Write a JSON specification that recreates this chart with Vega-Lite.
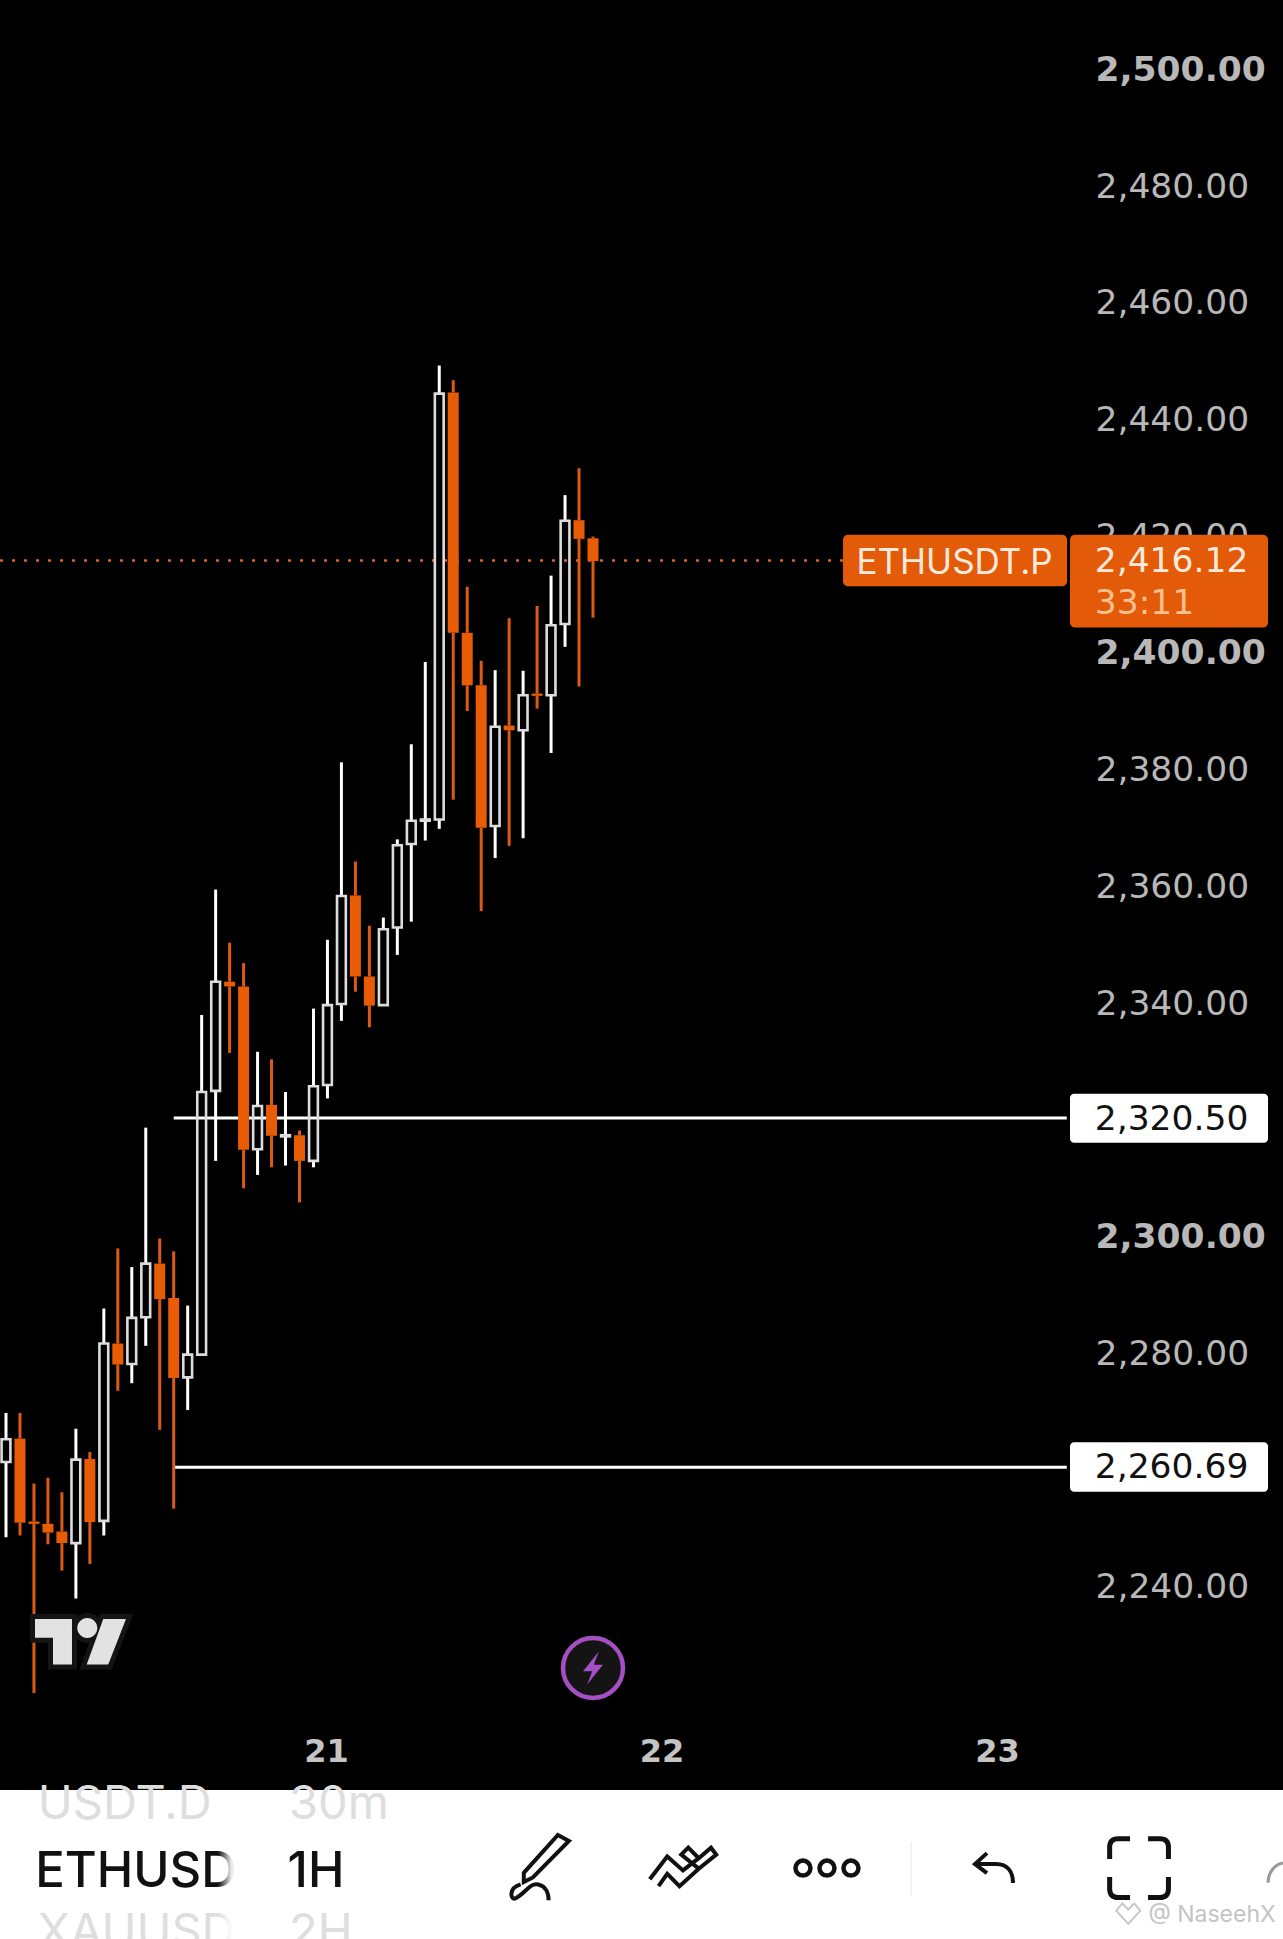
{"$schema":"https://vega.github.io/schema/vega-lite/v6.json","width":1283,"height":1939,"padding":0,"autosize":{"type":"none"},"background":"#000000","view":{"stroke":null},
"config":{"font":"Inter","axis":{"title":null,"grid":false,"domain":false,"ticks":false}},
"datasets":{
"candles":[
{"i":0,"high":2269.5,"low":2248.2,"top":2265.0,"bottom":2261.1,"dir":"up"},
{"i":1,"high":2269.5,"low":2248.5,"top":2265.1,"bottom":2250.7,"dir":"down"},
{"i":2,"high":2257.4,"low":2221.5,"top":2250.9,"bottom":2250.5,"dir":"down"},
{"i":3,"high":2258.4,"low":2247.0,"top":2250.5,"bottom":2249.0,"dir":"down"},
{"i":4,"high":2255.9,"low":2242.5,"top":2249.2,"bottom":2247.2,"dir":"down"},
{"i":5,"high":2266.8,"low":2237.7,"top":2261.5,"bottom":2247.2,"dir":"up"},
{"i":6,"high":2262.8,"low":2243.6,"top":2261.6,"bottom":2250.8,"dir":"down"},
{"i":7,"high":2287.4,"low":2248.5,"top":2281.4,"bottom":2251.0,"dir":"up"},
{"i":8,"high":2297.7,"low":2273.3,"top":2281.4,"bottom":2277.8,"dir":"down"},
{"i":9,"high":2294.5,"low":2274.6,"top":2285.8,"bottom":2277.9,"dir":"up"},
{"i":10,"high":2318.4,"low":2281.0,"top":2295.1,"bottom":2285.9,"dir":"up"},
{"i":11,"high":2299.4,"low":2266.6,"top":2295.1,"bottom":2289.0,"dir":"down"},
{"i":12,"high":2297.2,"low":2253.1,"top":2289.2,"bottom":2275.5,"dir":"down"},
{"i":13,"high":2287.9,"low":2270.0,"top":2279.5,"bottom":2275.6,"dir":"up"},
{"i":14,"high":2337.7,"low":2279.5,"top":2324.5,"bottom":2279.5,"dir":"up"},
{"i":15,"high":2359.2,"low":2312.7,"top":2343.4,"bottom":2324.7,"dir":"up"},
{"i":16,"high":2350.1,"low":2331.2,"top":2343.4,"bottom":2342.6,"dir":"down"},
{"i":17,"high":2346.6,"low":2308.0,"top":2342.6,"bottom":2314.6,"dir":"down"},
{"i":18,"high":2331.4,"low":2310.3,"top":2322.1,"bottom":2314.7,"dir":"up"},
{"i":19,"high":2330.1,"low":2311.6,"top":2322.3,"bottom":2317.0,"dir":"down"},
{"i":20,"high":2324.5,"low":2311.9,"top":2317.1,"bottom":2316.9,"dir":"up"},
{"i":21,"high":2317.9,"low":2305.6,"top":2317.1,"bottom":2312.7,"dir":"down"},
{"i":22,"high":2338.8,"low":2311.6,"top":2325.5,"bottom":2312.7,"dir":"up"},
{"i":23,"high":2350.6,"low":2323.4,"top":2339.4,"bottom":2325.7,"dir":"up"},
{"i":24,"high":2381.0,"low":2336.7,"top":2358.1,"bottom":2339.6,"dir":"up"},
{"i":25,"high":2364.0,"low":2341.7,"top":2358.2,"bottom":2344.3,"dir":"down"},
{"i":26,"high":2353.0,"low":2335.6,"top":2344.3,"bottom":2339.3,"dir":"down"},
{"i":27,"high":2354.4,"low":2339.4,"top":2352.4,"bottom":2339.4,"dir":"up"},
{"i":28,"high":2367.8,"low":2348.0,"top":2366.8,"bottom":2352.7,"dir":"up"},
{"i":29,"high":2384.1,"low":2353.7,"top":2371.0,"bottom":2367.0,"dir":"up"},
{"i":30,"high":2398.2,"low":2367.6,"top":2371.2,"bottom":2371.0,"dir":"up"},
{"i":31,"high":2449.0,"low":2369.6,"top":2444.2,"bottom":2371.2,"dir":"up"},
{"i":32,"high":2446.5,"low":2374.6,"top":2444.4,"bottom":2403.2,"dir":"down"},
{"i":33,"high":2411.1,"low":2389.8,"top":2403.2,"bottom":2394.2,"dir":"down"},
{"i":34,"high":2398.4,"low":2355.5,"top":2394.2,"bottom":2369.8,"dir":"down"},
{"i":35,"high":2396.8,"low":2364.6,"top":2387.1,"bottom":2370.1,"dir":"up"},
{"i":36,"high":2405.7,"low":2366.7,"top":2387.3,"bottom":2386.5,"dir":"down"},
{"i":37,"high":2396.7,"low":2368.0,"top":2392.5,"bottom":2386.5,"dir":"up"},
{"i":38,"high":2407.8,"low":2390.2,"top":2392.8,"bottom":2392.4,"dir":"down"},
{"i":39,"high":2413.0,"low":2382.6,"top":2404.5,"bottom":2392.5,"dir":"up"},
{"i":40,"high":2426.8,"low":2400.8,"top":2422.4,"bottom":2404.7,"dir":"up"},
{"i":41,"high":2431.4,"low":2394.0,"top":2422.5,"bottom":2419.3,"dir":"down"},
{"i":42,"high":2419.7,"low":2405.8,"top":2419.4,"bottom":2415.5,"dir":"down"}
],
"levels":[{"start":12,"end":75.9,"price":2320.05},{"start":12,"end":75.9,"price":2260.2}],
"current":[{"start":-0.43,"end":59.9,"price":2415.6}],
"boxes":[
{"kind":"current","x0":59.89,"x1":75.92,"p0":2420.0,"p1":2411.2},
{"kind":"current","x0":76.13,"x1":90.3,"p0":2420.0,"p1":2404.1},
{"kind":"level","x0":76.13,"x1":90.3,"p0":2324.2,"p1":2315.8},
{"kind":"level","x0":76.13,"x1":90.3,"p0":2264.5,"p1":2256.0},
{"kind":"panel","x0":-0.43,"x1":91.37,"p0":2204.9,"p1":2179.35}
],
"labels":[
{"group":"symbol","idx":60.85,"price":2415.1,"text":"ETHUSDT.P"},
{"group":"price","idx":77.9,"price":2415.4,"text":"2,416.12"},
{"group":"countdown","idx":77.9,"price":2408.2,"text":"33:11"},
{"group":"level","idx":77.9,"price":2319.7,"text":"2,320.50"},
{"group":"level","idx":77.9,"price":2260.1,"text":"2,260.69"},
{"group":"faded","idx":2.28,"price":2202.3,"text":"USDT.D"},
{"group":"faded","idx":20.25,"price":2202.3,"text":"30m"},
{"group":"main","idx":2.09,"price":2190.9,"text":"ETHUSD"},
{"group":"main","idx":20.15,"price":2190.9,"text":"1H"},
{"group":"faded","idx":2.28,"price":2180.4,"text":"XAUUSD"},
{"group":"faded","idx":20.25,"price":2180.4,"text":"2H"},
{"group":"watermark","idx":81.75,"price":2183.5,"text":"@ NaseehX"}
],
"icons":[
{"name":"logo","idx":5.33,"price":2230.25},
{"name":"bolt","idx":42,"price":2225.8},
{"name":"pencil","idx":38.2,"price":2191.7},
{"name":"wave","idx":48.44,"price":2191.7},
{"name":"dots","idx":58.74,"price":2191.5},
{"name":"undo","idx":70.69,"price":2191.5},
{"name":"frame","idx":81.07,"price":2191.5},
{"name":"arc","idx":90.8,"price":2190.7},
{"name":"mark","idx":80.3,"price":2184}
],
"divider":[{"idx":64.75,"p0":2196,"p1":2186.9}],
"fade":[{"x0":15.17,"x1":16.74,"p0":2204.9,"p1":2179.35}]
},
"layer":[
{"data":{"name":"current"},"mark":{"type":"rule","color":"#d9651f","strokeWidth":2.5,"strokeDash":[3,9]},
"encoding":{
"x":{"field":"start","type":"quantitative","scale":{"domain":[-0.429,91.37],"nice":false,"zero":false,"padding":0},
"axis":{"orient":"bottom","offset":-188,"values":[22.9,46.9,70.9],"labelExpr":"datum.value<30?'21':datum.value<50?'22':'23'","labelPadding":0,"labelBaseline":"middle","labelAlign":"center","labelFont":"DejaVu Sans","labelFontSize":32,"labelFontWeight":"bold","labelColor":"#c4c4c4","labelFlush":false,"labelOverlap":false,"labelBound":false}},
"x2":{"field":"end"},
"y":{"field":"price","type":"quantitative","scale":{"domain":[2179.35,2511.65],"nice":false,"zero":false},
"axis":{"orient":"right","offset":-188,"labelOffset":2.5,"values":[2240,2260,2280,2300,2320,2340,2360,2380,2400,2420,2440,2460,2480,2500],"labelExpr":"datum.value==2260||datum.value==2320?'':format(datum.value,',.2f')","labelPadding":0,"labelBaseline":"middle","labelAlign":"left","labelFont":"DejaVu Sans","labelFontSize":34.5,"labelColor":"#b8b8b8","labelFontWeight":{"condition":{"test":"datum.value==2500||datum.value==2400||datum.value==2300","value":"bold"},"value":"normal"},"labelFlush":false,"labelOverlap":false,"labelBound":false}}}},
{"data":{"name":"levels"},"mark":{"type":"rule","color":"#ffffff","strokeWidth":3},
"encoding":{"x":{"field":"start","type":"quantitative"},"x2":{"field":"end"},"y":{"field":"price","type":"quantitative"}}},
{"data":{"name":"candles"},"mark":{"type":"rule","strokeWidth":3},
"encoding":{"x":{"field":"i","type":"quantitative"},"y":{"field":"high","type":"quantitative"},"y2":{"field":"top"},"color":{"field":"dir","type":"nominal","scale":{"domain":["up","down"],"range":["#ffffff","#dc5a14"]},"legend":null}}},
{"data":{"name":"candles"},"mark":{"type":"rule","strokeWidth":3},
"encoding":{"x":{"field":"i","type":"quantitative"},"y":{"field":"bottom","type":"quantitative"},"y2":{"field":"low"},"color":{"field":"dir","type":"nominal","legend":null}}},
{"data":{"name":"candles"},"transform":[{"filter":"datum.dir=='up'"}],"mark":{"type":"bar","size":8.8,"fill":"transparent","stroke":"#dcdcdc","strokeWidth":2.6},
"encoding":{"x":{"field":"i","type":"quantitative","scale":{"padding":0}},"y":{"field":"top","type":"quantitative"},"y2":{"field":"bottom"}}},
{"data":{"name":"candles"},"transform":[{"filter":"datum.dir=='down'"}],"mark":{"type":"bar","size":11,"fill":"#e85c06"},
"encoding":{"x":{"field":"i","type":"quantitative","scale":{"padding":0}},"y":{"field":"top","type":"quantitative"},"y2":{"field":"bottom"}}},
{"data":{"name":"boxes"},"transform":[{"filter":"datum.kind=='current'"}],"mark":{"type":"rect","fill":"#e35a08","cornerRadius":5},
"encoding":{"x":{"field":"x0","type":"quantitative"},"x2":{"field":"x1"},"y":{"field":"p0","type":"quantitative"},"y2":{"field":"p1"}}},
{"data":{"name":"boxes"},"transform":[{"filter":"datum.kind=='level'"}],"mark":{"type":"rect","fill":"#ffffff","cornerRadius":4},
"encoding":{"x":{"field":"x0","type":"quantitative"},"x2":{"field":"x1"},"y":{"field":"p0","type":"quantitative"},"y2":{"field":"p1"}}},
{"data":{"name":"boxes"},"transform":[{"filter":"datum.kind=='panel'"}],"mark":{"type":"rect","fill":"#ffffff"},
"encoding":{"x":{"field":"x0","type":"quantitative"},"x2":{"field":"x1"},"y":{"field":"p0","type":"quantitative"},"y2":{"field":"p1"}}},
{"data":{"name":"divider"},"mark":{"type":"rule","color":"#eeeeee","strokeWidth":1.5},
"encoding":{"x":{"field":"idx","type":"quantitative"},"y":{"field":"p0","type":"quantitative"},"y2":{"field":"p1"}}},
{"data":{"name":"labels"},"transform":[{"filter":"datum.group=='symbol'"}],"mark":{"type":"text","align":"left","baseline":"middle","font":"Inter","fontSize":35,"color":"#ffeadb"},
"encoding":{"x":{"field":"idx","type":"quantitative"},"y":{"field":"price","type":"quantitative"},"text":{"field":"text"}}},
{"data":{"name":"labels"},"transform":[{"filter":"datum.group=='price'"}],"mark":{"type":"text","align":"left","baseline":"middle","font":"DejaVu Sans","fontSize":34.5,"color":"#ffeadb"},
"encoding":{"x":{"field":"idx","type":"quantitative"},"y":{"field":"price","type":"quantitative"},"text":{"field":"text"}}},
{"data":{"name":"labels"},"transform":[{"filter":"datum.group=='countdown'"}],"mark":{"type":"text","align":"left","baseline":"middle","font":"DejaVu Sans","fontSize":34.5,"color":"#ffc090"},
"encoding":{"x":{"field":"idx","type":"quantitative"},"y":{"field":"price","type":"quantitative"},"text":{"field":"text"}}},
{"data":{"name":"labels"},"transform":[{"filter":"datum.group=='level'"}],"mark":{"type":"text","align":"left","baseline":"middle","font":"DejaVu Sans","fontSize":34.5,"color":"#111111"},
"encoding":{"x":{"field":"idx","type":"quantitative"},"y":{"field":"price","type":"quantitative"},"text":{"field":"text"}}},
{"data":{"name":"labels"},"transform":[{"filter":"datum.group=='faded'"}],"mark":{"type":"text","align":"left","baseline":"middle","font":"Inter","fontSize":47,"color":"#dedede"},
"encoding":{"x":{"field":"idx","type":"quantitative"},"y":{"field":"price","type":"quantitative"},"text":{"field":"text"}}},
{"data":{"name":"labels"},"transform":[{"filter":"datum.group=='main'"}],"mark":{"type":"text","align":"left","baseline":"middle","font":"Inter","fontSize":49,"fontWeight":500,"color":"#111111"},
"encoding":{"x":{"field":"idx","type":"quantitative"},"y":{"field":"price","type":"quantitative"},"text":{"field":"text"}}},
{"data":{"name":"fade"},"mark":{"type":"rect","fill":{"gradient":"linear","x1":0,"y1":0,"x2":1,"y2":0,"stops":[{"offset":0,"color":"rgba(255,255,255,0)"},{"offset":0.6,"color":"rgba(255,255,255,0.9)"},{"offset":1,"color":"#ffffff"}]}},
"encoding":{"x":{"field":"x0","type":"quantitative"},"x2":{"field":"x1"},"y":{"field":"p0","type":"quantitative"},"y2":{"field":"p1"}}},
{"data":{"name":"labels"},"transform":[{"filter":"datum.group=='watermark'"}],"mark":{"type":"text","align":"left","baseline":"middle","font":"Inter","fontSize":23,"color":"#c4c4c4"},
"encoding":{"x":{"field":"idx","type":"quantitative"},"y":{"field":"price","type":"quantitative"},"text":{"field":"text"}}},
{"data":{"name":"icons"},"transform":[{"filter":"datum.name=='logo'"}],"mark":{"type":"point","filled":true,"opacity":1,"size":8281,"fill":"#141414","stroke":"#141414","strokeWidth":10,"shape":"M-1 -.505 H-.187 V.495 H-.604 V-.095 H-1 Z M-.07 -.308 A.22 .22 0 1 0 .37 -.308 A.22 .22 0 1 0 -.07 -.308 Z M.5 -.505 H1 L.61 .495 H.136 Z"},
"encoding":{"x":{"field":"idx","type":"quantitative"},"y":{"field":"price","type":"quantitative"}}},
{"data":{"name":"icons"},"transform":[{"filter":"datum.name=='logo'"}],"mark":{"type":"point","filled":true,"opacity":1,"size":8281,"fill":"#e2e2e2","strokeWidth":0,"shape":"M-1 -.505 H-.187 V.495 H-.604 V-.095 H-1 Z M-.07 -.308 A.22 .22 0 1 0 .37 -.308 A.22 .22 0 1 0 -.07 -.308 Z M.5 -.505 H1 L.61 .495 H.136 Z"},
"encoding":{"x":{"field":"idx","type":"quantitative"},"y":{"field":"price","type":"quantitative"}}},
{"data":{"name":"icons"},"transform":[{"filter":"datum.name=='bolt'"}],"mark":{"type":"point","filled":false,"opacity":1,"shape":"circle","size":3600,"fill":"#141414","stroke":"#a44fc4","strokeWidth":4.5},
"encoding":{"x":{"field":"idx","type":"quantitative"},"y":{"field":"price","type":"quantitative"}}},
{"data":{"name":"icons"},"transform":[{"filter":"datum.name=='bolt'"}],"mark":{"type":"point","filled":true,"opacity":1,"size":1100,"fill":"#a44fc4","strokeWidth":0,"shape":"M.35 -1 L-.6 .2 H-.05 L-.35 1 L.6 -.2 H.05 Z"},
"encoding":{"x":{"field":"idx","type":"quantitative"},"y":{"field":"price","type":"quantitative"}}},
{"data":{"name":"icons"},"transform":[{"filter":"datum.name=='pencil'"}],"mark":{"type":"point","filled":false,"opacity":1,"size":4900,"stroke":"#111111","strokeWidth":4,"shape":"M.514 -.914 L.829 -.743 L-.2 .3 L-.46 .43 L-.46 .17 Z M-.55 .5 C-.9 .6 -.85 .95 -.7 .9 C-.4 .75 -.3 .45 -.05 .5 C.2 .55 .25 .8 .25 .95"},
"encoding":{"x":{"field":"idx","type":"quantitative"},"y":{"field":"price","type":"quantitative"}}},
{"data":{"name":"icons"},"transform":[{"filter":"datum.name=='wave'"}],"mark":{"type":"point","filled":false,"opacity":1,"size":4900,"stroke":"#111111","strokeWidth":4,"shape":"M-.95 .35 L-.45 -.3 L0 .1 L.45 -.25 M-.7 .55 L-.45 .2 L-.1 .55 L.45 .05 L.95 -.35 L.8 -.55 L.45 -.25 L.15 -.55 L-.05 -.35 L.45 .05"},
"encoding":{"x":{"field":"idx","type":"quantitative"},"y":{"field":"price","type":"quantitative"}}},
{"data":{"name":"icons"},"transform":[{"filter":"datum.name=='dots'"}],"mark":{"type":"point","filled":false,"opacity":1,"size":3600,"stroke":"#111111","strokeWidth":4.5,"shape":"M-1.05 0 A.25 .25 0 1 0 -.55 0 A.25 .25 0 1 0 -1.05 0 Z M-.25 0 A.25 .25 0 1 0 .25 0 A.25 .25 0 1 0 -.25 0 Z M.55 0 A.25 .25 0 1 0 1.05 0 A.25 .25 0 1 0 .55 0 Z"},
"encoding":{"x":{"field":"idx","type":"quantitative"},"y":{"field":"price","type":"quantitative"}}},
{"data":{"name":"icons"},"transform":[{"filter":"datum.name=='undo'"}],"mark":{"type":"point","filled":false,"opacity":1,"size":1600,"stroke":"#111111","strokeWidth":4,"shape":"M-.35 -.75 L-.95 -.2 L-.35 .25 M-.95 -.2 H.1 C.7 -.2 .95 .2 .95 .75"},
"encoding":{"x":{"field":"idx","type":"quantitative"},"y":{"field":"price","type":"quantitative"}}},
{"data":{"name":"icons"},"transform":[{"filter":"datum.name=='frame'"}],"mark":{"type":"point","filled":false,"opacity":1,"size":3600,"stroke":"#111111","strokeWidth":5,"shape":"M-.98 -.3 V-.7 Q-.98 -.98 -.7 -.98 H-.3 M.3 -.98 H.7 Q.98 -.98 .98 -.7 V-.3 M.98 .3 V.7 Q.98 .98 .7 .98 H.3 M-.3 .98 H-.7 Q-.98 .98 -.98 .7 V.3"},
"encoding":{"x":{"field":"idx","type":"quantitative"},"y":{"field":"price","type":"quantitative"}}},
{"data":{"name":"icons"},"transform":[{"filter":"datum.name=='arc'"}],"mark":{"type":"point","filled":false,"opacity":1,"size":400,"stroke":"#999999","strokeWidth":3,"shape":"M-.7 1 C-.7 0 0 -1 1 -1"},
"encoding":{"x":{"field":"idx","type":"quantitative"},"y":{"field":"price","type":"quantitative"}}},
{"data":{"name":"icons"},"transform":[{"filter":"datum.name=='mark'"}],"mark":{"type":"point","filled":false,"opacity":1,"size":576,"stroke":"#c8c8c8","strokeWidth":2,"shape":"M0 1 L-1 -.1 L-.5 -.7 L0 -.2 L.5 -.7 L1 -.1 Z"},
"encoding":{"x":{"field":"idx","type":"quantitative"},"y":{"field":"price","type":"quantitative"}}}
]}
